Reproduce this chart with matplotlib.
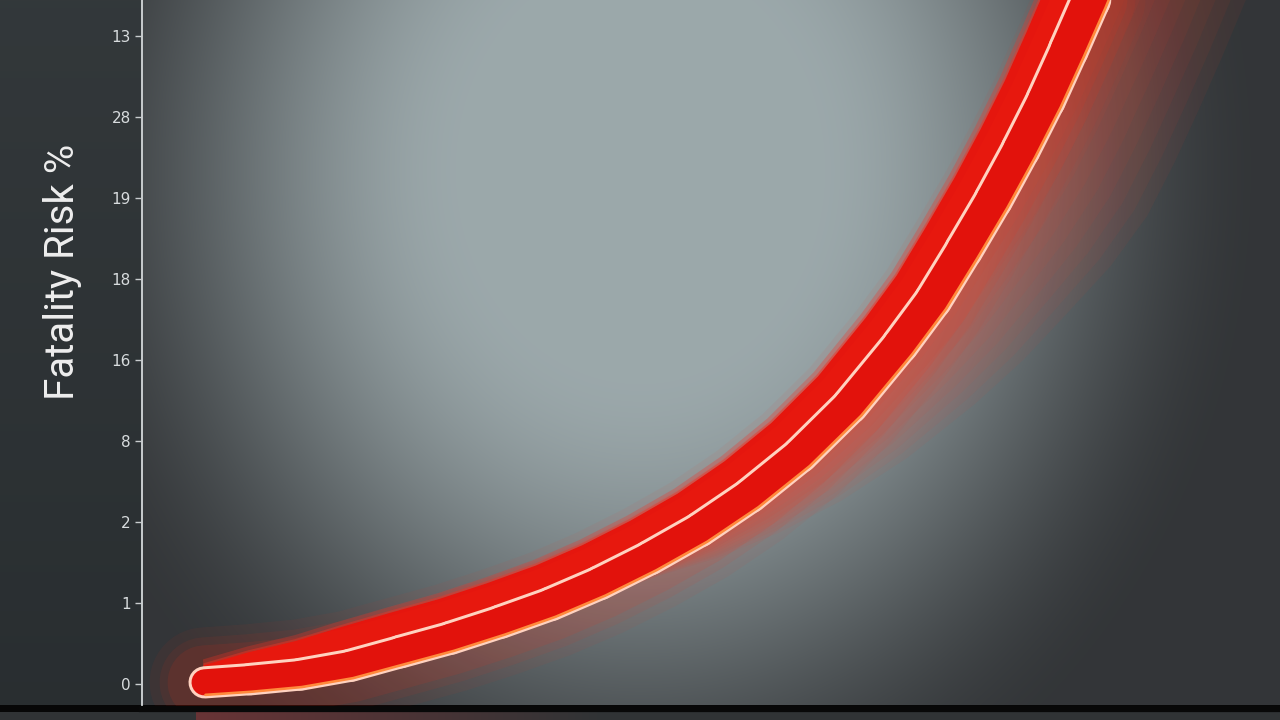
import numpy as np
import matplotlib.pyplot as plt
from matplotlib.collections import LineCollection

# curve (tube centre line), y in tick-slot units
risk_x = [5.5, 9.5, 13.9, 18.3, 22.7, 27.1, 31.5, 35.9, 40.2, 44.6, 49.0,
          53.4, 57.8, 62.2, 66.6, 69.5, 72.2, 74.8, 77.2, 79.4, 81.4, 83.3, 85.5]
risk_y = [0.02, 0.06, 0.12, 0.23, 0.40, 0.57, 0.77, 0.99, 1.25, 1.56, 1.91,
          2.33, 2.83, 3.44, 4.19, 4.74, 5.36, 5.98, 6.60, 7.21, 7.83, 8.44, 9.19]

tick_pos = [0, 1, 2, 3, 4, 5, 6, 7, 8]
tick_labels = ['0', '1', '2', '8', '16', '18', '19', '28', '13']
y_label = 'Fatality Risk %'

W, H = 1280, 720
fig = plt.figure(figsize=(W / 100, H / 100), dpi=100)

# backdrop: soft grey spotlight, dark panel on the left, dark floor strip
bg = fig.add_axes([0, 0, 1, 1])
bg.axis('off')
yy, xx = np.mgrid[0:H, 0:W].astype(float)
r = np.sqrt(((xx - 640) / 570) ** 2 + ((yy - 170) / 660) ** 2)
u = np.clip((r - 0.3) / 0.8, 0, 1)
t = u * u * (3 - 2 * u)
light = np.array([0.61, 0.66, 0.67])
dark = np.array([0.20, 0.21, 0.22])
img = light * (1 - t)[..., None] + dark * t[..., None]
left = xx < 142
panel = np.array([0.16, 0.18, 0.19]) + 0.04 * (1 - yy / H)[..., None]
img[left] = panel[left]
img[(yy > 704) & (yy <= 711)] = [0.03, 0.03, 0.03]
floor = yy > 711
img[floor] = [0.19, 0.20, 0.21]
glow_floor = floor & (xx > 195) & (xx < 600)
fade = np.clip(1 - (xx - 195) / 405, 0, 1)
img[glow_floor, 0] += 0.22 * fade[glow_floor]
img = np.clip(img, 0, 1)
bg.imshow(img, extent=[0, W, H, 0], aspect='auto')
bg.set_xlim(0, W)
bg.set_ylim(H, 0)

ax = fig.add_axes([142 / W, 11 / H, 1 - 142 / W, 1 - 11 / H])
ax.set_facecolor('none')
ax.set_xlim(0, 100)
ax.set_ylim(-25 / 81, 684 / 81)

P = ax.transData.transform(np.column_stack([risk_x, risk_y]))
d = np.gradient(P, axis=0)
d /= np.linalg.norm(d, axis=1)[:, None]
nrm = np.column_stack([-d[:, 1], d[:, 0]])
arc = np.concatenate([[0], np.cumsum(np.linalg.norm(np.diff(P, axis=0), axis=1))])
s = arc / arc[-1]
n = len(risk_x)

tube_w = 26 + 10 * s
band_w = 4 + 22 * np.clip(s / 0.12, 0, 1) ** 0.7 + 2 * s
px = 0.72


def shifted(dist):
    Q = P + nrm * np.asarray(dist)[:, None]
    return ax.transData.inverted().transform(Q)


def strip(dist, widths, color, **kw):
    Q = shifted(dist)
    segs = np.stack([Q[:-1], Q[1:]], axis=1)
    w = (widths[:-1] + widths[1:]) / 2 * px
    lc = LineCollection(segs, linewidths=w, colors=color,
                        capstyle='round', joinstyle='round', **kw)
    ax.add_collection(lc)


def ribbon(outer, inner, color, **kw):
    a = shifted(outer)
    b = shifted(inner)
    ax.fill(np.r_[a[:, 0], b[::-1, 0]], np.r_[a[:, 1], b[::-1, 1]],
            color=color, lw=0, **kw)


# glow around the tube
for gw, ga in [(110, 0.05), (90, 0.07), (74, 0.10)]:
    ax.plot(risk_x, risk_y, color='#ff2a10', lw=gw * px, alpha=ga,
            solid_capstyle='round')
# wider haze on the lower-right side of the steep part
ramp = np.clip((s - 0.35) / 0.45, 0, 1)
for k in range(1, 10):
    ribbon(-(tube_w / 2 + 14 * k * ramp), -tube_w / 2, '#ff3a22', alpha=0.055)

# red haze band above the highlight
ribbon(tube_w / 2 + band_w + 6, np.zeros(n), '#f0352a', alpha=0.30)
ribbon(tube_w / 2 + band_w + 2, np.zeros(n), '#f0352a', alpha=0.45)
ribbon(tube_w / 2 + band_w, np.zeros(n), '#e3140e')
# pale rim + tube body
strip(np.zeros(n), tube_w + 6, '#ffd2c0')
strip(np.zeros(n), tube_w, '#e2120c')
# orange lower edge
ox, oy = shifted(-(tube_w / 2 - 0.5)).T
ax.plot(ox, oy, color='#ff8a3c', lw=2.6 * px, solid_capstyle='round')

ax.set_xticks([])
ax.set_yticks(tick_pos)
ax.set_yticklabels(tick_labels)
ax.tick_params(axis='y', direction='out', length=5, width=1, pad=3,
               colors='#c9cdcf', labelsize=11, labelcolor='#d8dcde')
for side in ['top', 'right']:
    ax.spines[side].set_visible(False)
ax.spines['left'].set_color('#c9cdcf')
ax.spines['left'].set_linewidth(1.4)
ax.spines['bottom'].set_color('#080808')
ax.spines['bottom'].set_linewidth(4.5)

fig.text(63 / W, 1 - 272 / H, y_label, rotation=90, ha='center', va='center',
         fontsize=29, color='#eeeeee', family=['Roboto', 'DejaVu Sans'])

fig.savefig('out.png', dpi=100)
